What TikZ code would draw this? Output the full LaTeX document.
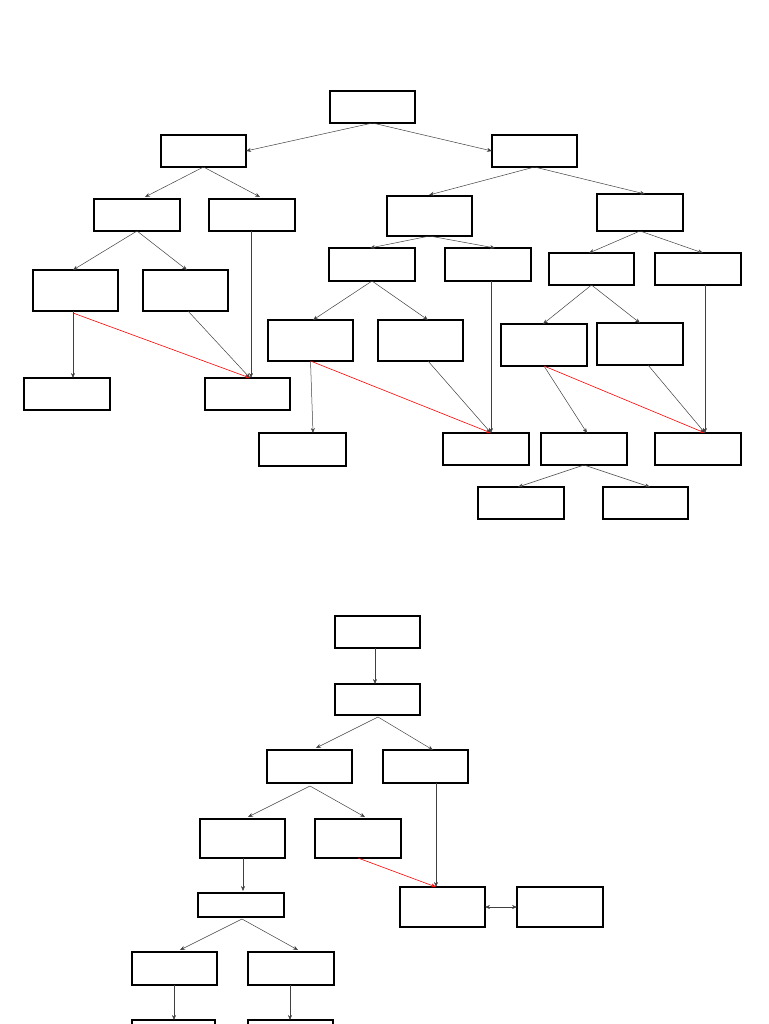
\documentclass[tikz,border=0pt]{standalone}
\usetikzlibrary{arrows.meta}
\begin{document}
\begin{tikzpicture}[x=1pt,y=-1pt,
  bx/.style={draw=black,line width=1.2pt},
  ln/.style={draw=black!75,line width=0.5pt,-{Stealth[length=5pt,width=4pt]}},
  rd/.style={draw=red,line width=0.6pt,-{Stealth[length=5pt,width=4pt]}}]
\useasboundingbox (0,0) rectangle (768,1024);
\clip (0,0) rectangle (768,1024);
\newcommand{\bxn}[5]{\draw[bx] (#2,#3) rectangle (#4,#5); \coordinate (#1t) at ({(#2+#4)/2},#3); \coordinate (#1b) at ({(#2+#4)/2},#5); \coordinate (#1l) at (#2,{(#3+#5)/2}); \coordinate (#1r) at (#4,{(#3+#5)/2});}
\bxn{A}{330}{91}{415}{123}
\bxn{B}{161}{135}{246}{167}
\bxn{C}{492}{135}{577}{167}
\bxn{D}{94}{199}{180}{231}
\bxn{E}{209}{199}{295}{231}
\bxn{F}{387}{196}{472}{236}
\bxn{G}{597}{194}{683}{231}
\bxn{H}{33}{270}{118}{311}
\bxn{I}{143}{270}{228}{311}
\bxn{J}{329}{248}{415}{281}
\bxn{K}{445}{248}{531}{281}
\bxn{L}{549}{253}{634}{285}
\bxn{M}{655}{253}{741}{285}
\bxn{N}{24}{378}{110}{410}
\bxn{O}{205}{378}{290}{410}
\bxn{P}{268}{320}{353}{361}
\bxn{Q}{378}{320}{463}{361}
\bxn{R}{501}{324}{587}{366}
\bxn{S}{597}{323}{683}{365}
\bxn{T}{259}{433}{346}{466}
\bxn{U}{443}{433}{529}{465}
\bxn{V}{541}{433}{627}{465}
\bxn{W}{655}{433}{741}{465}
\bxn{X}{478}{487}{564}{519}
\bxn{Y}{603}{487}{688}{519}
\draw[ln] (Ab) -- (Br); \draw[ln] (Ab) -- (Cl);
\draw[ln] (Bb) -- (145,197); \draw[ln] (Bb) -- (260,197);
\draw[ln] (Db) -- (73,270); \draw[ln] (Db) -- (187,270);
\draw[ln] (251,231) -- (251,378);
\draw[ln] (73,311) -- (73,378);
\draw[rd] (73,313) -- (250,378);
\draw[ln] (188,311) -- (250,378);
\draw[ln] (Cb) -- (429,195); \draw[ln] (Cb) -- (645,194);
\draw[ln] (Fb) -- (370,248); \draw[ln] (Fb) -- (495,248);
\draw[ln] (Jb) -- (313,320); \draw[ln] (Jb) -- (428,320);
\draw[ln] (491,281) -- (491,433);
\draw[ln] (Pb) -- (313,433);
\draw[rd] (Pb) -- (491,433);
\draw[ln] (428,361) -- (491,433);
\draw[ln] (Gb) -- (589,253); \draw[ln] (Gb) -- (703,253);
\draw[ln] (Lb) -- (543,324); \draw[ln] (Lb) -- (640,323);
\draw[ln] (705,285) -- (705,433);
\draw[ln] (544,366) -- (587,433);
\draw[rd] (544,366) -- (705,433);
\draw[ln] (648,365) -- (705,433);
\draw[ln] (Vb) -- (518,487); \draw[ln] (Vb) -- (650,487);
% second
\bxn{a}{335}{616}{420}{648}
\bxn{b}{335}{684}{420}{715}
\bxn{c}{267}{750}{352}{783}
\bxn{d}{383}{750}{468}{783}
\bxn{e}{200}{819}{285}{858}
\bxn{f}{315}{819}{401}{858}
\bxn{g}{198}{893}{284}{917}
\bxn{h}{400}{887}{485}{927}
\bxn{i}{517}{887}{603}{927}
\bxn{j}{132}{952}{217}{985}
\bxn{k}{248}{952}{334}{985}
\bxn{l}{132}{1020}{215}{1050}
\bxn{m}{248}{1020}{333}{1050}
\draw[ln] (375,648) -- (375,684);
\draw[ln] (378,717) -- (316,748); \draw[ln] (378,717) -- (433,750);
\draw[ln] (310,786) -- (248,817); \draw[ln] (310,786) -- (365,817);
\draw[ln] (436,783) -- (436,887);
\draw[ln] (243,858) -- (243,891);
\draw[rd] (358,858) -- (436,887);
\draw[ln,{Stealth[length=5pt,width=4pt]}-{Stealth[length=5pt,width=4pt]}] (hr) -- (il);
\draw[ln] (242,919) -- (180,950); \draw[ln] (242,919) -- (298,950);
\draw[ln] (174,985) -- (174,1020); \draw[ln] (290,985) -- (290,1020);
\end{tikzpicture}
\end{document}
